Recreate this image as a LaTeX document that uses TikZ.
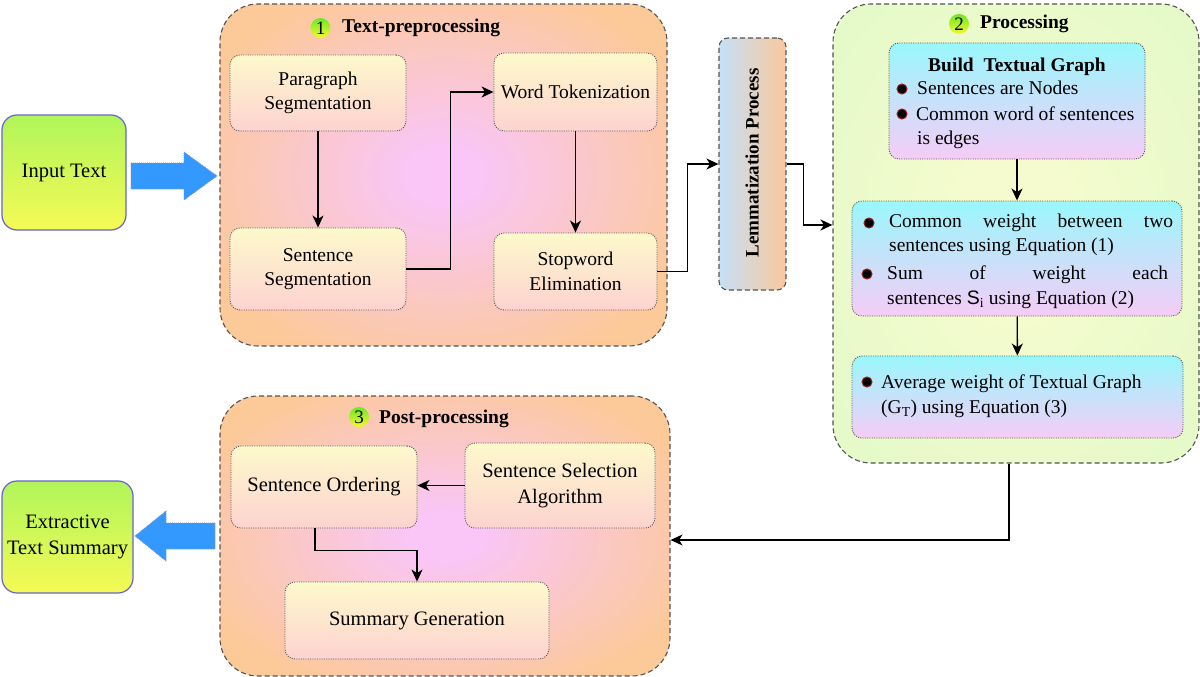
\documentclass[tikz,border=0pt]{standalone}
\usepackage{fontspec}
\setmainfont{Liberation Serif}
\newfontfamily\arialf{Liberation Sans}
\usetikzlibrary{arrows.meta,calc}
\definecolor{preOut}{RGB}{252,201,152}
\definecolor{preIn}{RGB}{249,198,247}
\definecolor{procOut}{RGB}{228,250,200}
\definecolor{procIn}{RGB}{245,251,206}
\definecolor{boxTop}{RGB}{253,249,204}
\definecolor{boxBot}{RGB}{253,211,208}
\definecolor{cyanTop}{RGB}{153,247,252}
\definecolor{pinkBot}{RGB}{246,204,247}
\definecolor{lemL}{RGB}{197,224,248}
\definecolor{lemR}{RGB}{250,200,156}
\definecolor{ioTop}{RGB}{176,245,90}
\definecolor{ioBot}{RGB}{245,250,85}
\definecolor{ioBorder}{RGB}{100,100,210}
\definecolor{blueArr}{RGB}{51,153,255}
\definecolor{blueEdge}{RGB}{120,150,200}
\definecolor{dashGray}{RGB}{85,85,85}
\definecolor{badgeG}{RGB}{110,230,40}
\definecolor{badgeY}{RGB}{245,250,40}
\definecolor{bulletEdge}{RGB}{150,25,25}
\pgfdeclareradialshading{preRad}{\pgfpoint{0bp}{0bp}}{color(0bp)=(preIn); color(4bp)=(preIn); color(30bp)=(preOut); color(50bp)=(preOut)}
\pgfdeclareradialshading{procRad}{\pgfpoint{0bp}{0bp}}{color(0bp)=(procIn); color(8bp)=(procIn); color(34bp)=(procOut); color(50bp)=(procOut)}
\tikzset{
  container/.style={draw=dashGray, line width=1.1pt, dash pattern=on 5pt off 3pt,
    rounded corners=38pt, inner sep=0pt},
  prebox/.style={draw=dashGray, line width=0.9pt, dash pattern=on 1pt off 1.3pt,
    rounded corners=10pt, top color=boxTop, bottom color=boxBot, inner sep=2pt,
    align=center, font=\fontsize{19.5}{24.5}\selectfont},
  procbox/.style={draw=dashGray, line width=0.9pt, dash pattern=on 1pt off 1.3pt,
    rounded corners=10pt, top color=cyanTop, bottom color=pinkBot, inner sep=0pt},
  iobox/.style={draw=ioBorder, line width=1.2pt, rounded corners=15pt,
    top color=ioTop, bottom color=ioBot, align=center,
    font=\fontsize{20.5}{25.5}\selectfont},
  arr/.style={-{Stealth[length=12pt,width=11pt,inset=3.5pt]}, line width=1.4pt},
  bulletdot/.style={circle, fill=black, draw=bulletEdge, line width=1pt,
    minimum size=10pt, inner sep=0pt},
  badge/.style={circle, top color=badgeG, bottom color=badgeY, minimum size=20pt,
    inner sep=0pt, font=\fontsize{19}{19}\selectfont},
  titletext/.style={anchor=base west, inner sep=0pt, font=\fontsize{19.5}{22}\selectfont\bfseries},
  bodytext/.style={anchor=base west, inner sep=0pt, font=\fontsize{19.5}{24.5}\selectfont},
  blockarrow/.style={fill=blueArr, draw=blueEdge, line width=0.8pt, dash pattern=on 1pt off 1pt}
}
\begin{document}
\begin{tikzpicture}[x=1pt,y=-1pt]
\useasboundingbox[fill=white] (0,0) rectangle (1200,677);

% ---------- containers ----------
\node[container, shading=preRad, minimum width=447pt, minimum height=342pt] (pre) at (443.5,175) {};
\node[container, shading=procRad, minimum width=366pt, minimum height=459pt] (proc) at (1016,233.5) {};
\node[container, shading=preRad, minimum width=450pt, minimum height=280pt] (post) at (445,536) {};

% titles
\node[badge] (b1) at (320.5,28) {1};
\node[titletext] (t1) at (342,33) {Text-preprocessing};
\node[badge] (b2) at (959,24) {2};
\node[titletext] (t2) at (980,29) {Processing};
\node[badge] (b3) at (359,417) {3};
\node[titletext] (t3) at (379,423) {Post-processing};

% ---------- input / output ----------
\node[iobox, minimum width=124pt, minimum height=115pt] (input) at (64,172.5) {Input Text};
\node[iobox, minimum width=131pt, minimum height=112pt] (output) at (67.5,537) {Extractive\\Text Summary};
\path[blockarrow] (131,163) -- (184,163) -- (184,152) -- (217,176) -- (184,200) -- (184,189) -- (131,189) -- cycle;
\path[blockarrow] (215,523) -- (166,523) -- (166,511) -- (135,536) -- (166,561) -- (166,549) -- (215,549) -- cycle;

% ---------- pre-processing boxes ----------
\node[prebox, minimum width=176pt, minimum height=76pt] (para) at (318,93) {\raisebox{-2pt}{Paragraph}\\\raisebox{-2pt}{Segmentation}};
\node[prebox, minimum width=176pt, minimum height=82pt] (sent) at (318,269) {Sentence\\Segmentation};
\node[prebox, minimum width=163pt, minimum height=78pt] (word) at (575.5,92) {Word Tokenization};
\node[prebox, minimum width=163pt, minimum height=77pt] (stop) at (575.5,271.5) {Stopword\\Elimination};

% ---------- lemmatization ----------
\node[draw=dashGray, line width=1.1pt, dash pattern=on 5pt off 3pt, rounded corners=9pt,
      left color=lemL, right color=lemR, minimum width=67pt, minimum height=252pt] (lemma) at (752.5,164) {};
\node[rotate=90, inner sep=0pt, font=\fontsize{19}{22}\selectfont\bfseries] (lemtxt) at (752,163) {Lemmatization Process};

% ---------- processing boxes ----------
\node[procbox, minimum width=256pt, minimum height=116pt] (build) at (1017,101) {};
\node[anchor=base, inner sep=0pt, font=\fontsize{19.5}{22}\selectfont\bfseries] (buildt) at (1017,72) {Build\ \ Textual Graph};
\node[bulletdot] (bu1) at (902,89) {};
\node[bodytext] (bl1) at (917,95) {Sentences are Nodes};
\node[bulletdot] (bu2) at (902,114) {};
\node[bodytext] (bl2) at (916,120) {Common word of sentences};
\node[bodytext] (bl3) at (917,144) {is edges};

\node[procbox, minimum width=330pt, minimum height=115pt] (mid) at (1017,258.5) {};
\node[bulletdot] (bu3) at (869,223) {};
\node[bodytext] (ml1) at (889,227) {\hbox to 284pt{Common\hfill weight\hfill between\hfill two}};
\node[bodytext] (ml2) at (889,251) {sentences using Equation (1)};
\node[bulletdot] (bu4) at (867,274) {};
\node[bodytext] (ml3) at (887,279) {\hbox to 281pt{Sum\hfill of\hfill weight\hfill each}};
\node[bodytext] (ml4) at (887,304) {sentences {\arialf S}\textsubscript{i} using Equation (2)};

\node[procbox, minimum width=331pt, minimum height=82pt] (avg) at (1017.5,397) {};
\node[bulletdot] (bu5) at (867,382) {};
\node[bodytext] (al1) at (881,388) {Average weight of Textual Graph};
\node[bodytext] (al2) at (881,413) {(G\textsubscript{T}) using Equation (3)};

% ---------- post-processing boxes ----------
\node[prebox, minimum width=186pt, minimum height=82pt, font=\fontsize{20.5}{26}\selectfont] (ord) at (324,487) {Sentence Ordering};
\node[prebox, minimum width=190pt, minimum height=85pt, font=\fontsize{20.5}{26}\selectfont] (sel) at (560,485.5) {Sentence Selection\\Algorithm};
\node[prebox, minimum width=264pt, minimum height=77pt, font=\fontsize{20.5}{26}\selectfont] (summ) at (417,620.5) {Summary Generation};

% ---------- connectors ----------
\draw[arr] (para) -- (sent);
\draw[arr] (sent.east) -- ++(44,0) |- (word.west);
\draw[arr] (word) -- (stop);
\draw[arr] (stop.east) -- ++(30,0) |- (lemma.west);
\draw[arr] (lemma.east) -- ++(17,0) |- ([yshift=8.5pt]proc.west);
\draw[arr] (build) -- (mid);
\draw[arr] (mid) -- (avg);
\draw[arr] ([xshift=-7pt]proc.south) |- ([yshift=-4pt]post.east);
\draw[arr] (sel.west) -- (ord.east |- sel.west);
\draw[arr] ([xshift=-9pt]ord.south) -- ++(0,22) -| (summ.north);
\end{tikzpicture}
\end{document}
